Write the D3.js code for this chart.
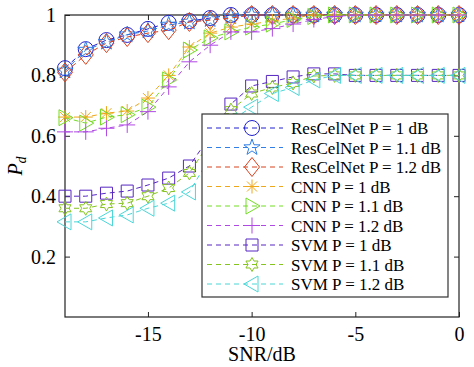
<!DOCTYPE html>
<html>
<head>
<meta charset="utf-8">
<script src="https://cdn.jsdelivr.net/npm/d3@7"></script>
<style>
body { margin: 0; background: #fff; }
svg { display: block; }
</style>
</head>
<body>
<svg width="474" height="367"></svg>
<script>
// SNR values (dB)
const snr = [-19, -18, -17, -16, -15, -14, -13, -12, -11, -10, -9, -8, -7, -6, -5, -4, -3, -2, -1, 0];

const resP1  = [0.824, 0.887, 0.917, 0.934, 0.954, 0.974, 0.98, 0.99, 1, 1, 1, 1, 1, 1, 1, 1, 1, 1, 1, 1];
const resP11 = [0.815, 0.884, 0.91, 0.935, 0.947, 0.967, 0.977, 0.985, 0.995, 1, 1, 1, 1, 1, 1, 1, 1, 1, 1, 1];
const resP12 = [0.81, 0.868, 0.907, 0.927, 0.94, 0.95, 0.977, 0.983, 0.99, 1, 1, 1, 1, 1, 1, 1, 1, 1, 1, 1];
const cnnP1  = [0.662, 0.662, 0.675, 0.682, 0.725, 0.8, 0.894, 0.94, 0.96, 0.97, 0.98, 0.99, 1, 1, 1, 1, 1, 1, 1, 1];
const cnnP11 = [0.66, 0.642, 0.662, 0.67, 0.695, 0.785, 0.884, 0.924, 0.944, 0.96, 0.97, 0.985, 0.995, 1, 1, 1, 1, 1, 1, 1];
const cnnP12 = [0.613, 0.613, 0.625, 0.636, 0.68, 0.762, 0.845, 0.9, 0.944, 0.944, 0.955, 0.97, 0.985, 0.995, 1, 1, 1, 1, 1, 1];
const svmP1  = [0.4, 0.4, 0.41, 0.417, 0.437, 0.46, 0.5, 0.6, 0.705, 0.765, 0.78, 0.795, 0.805, 0.805, 0.8, 0.8, 0.8, 0.8, 0.8, 0.8];
const svmP11 = [0.36, 0.36, 0.374, 0.377, 0.4, 0.427, 0.477, 0.58, 0.685, 0.74, 0.76, 0.775, 0.798, 0.8, 0.8, 0.8, 0.8, 0.8, 0.8, 0.8];
const svmP12 = [0.315, 0.315, 0.328, 0.338, 0.36, 0.377, 0.414, 0.53, 0.65, 0.695, 0.74, 0.76, 0.785, 0.8, 0.8, 0.8, 0.8, 0.8, 0.8, 0.8];

const labels = ["ResCelNet P = 1 dB", "ResCelNet P = 1.1 dB", "ResCelNet P = 1.2 dB",
                "CNN P = 1 dB", "CNN P = 1.1 dB", "CNN P = 1.2 dB",
                "SVM P = 1 dB", "SVM P = 1.1 dB", "SVM P = 1.2 dB"];
const xTicks = [-15, -10, -5, 0];
const yTicks = [0.2, 0.4, 0.6, 0.8, 1];

const serif = "'Liberation Serif', 'Times New Roman', Tinos, 'DejaVu Serif', serif";

// marker shapes, centred on 0,0
function poly(pts) { return "M" + pts.map(p => p[0].toFixed(2) + "," + p[1].toFixed(2)).join("L") + "Z"; }
function starPts(n, ro, ri) {
    let pts = [];
    for (let i = 0; i < 2 * n; i++) {
        let a = i * Math.PI / n, r = i % 2 ? ri : ro;
        pts.push([r * Math.sin(a), -r * Math.cos(a)]);
    }
    return pts;
}
const shapes = {
    circle: "M7.5,0A7.5,7.5 0 1,1 -7.5,0A7.5,7.5 0 1,1 7.5,0Z",
    star: poly(starPts(5, 8.5, 3.4)),
    diamond: poly([[0, -9.5], [7.5, 0], [0, 9.5], [-7.5, 0]]),
    asterisk: "M-7,0L7,0M0,-7L0,7M-5,-5L5,5M-5,5L5,-5",
    triRight: poly([[8, 0], [-6, -8], [-6, 8]]),
    plus: "M-8,0L8,0M0,-8L0,8",
    square: poly([[-6, -6], [6, -6], [6, 6], [-6, 6]]),
    hexagram: poly(starPts(6, 7, 4)),
    triLeft: poly([[-8, 0], [6, -8], [6, 8]])
};

const series = [
    { values: resP1,  color: "#2020d0", shape: "circle" },
    { values: resP11, color: "#2f7fe6", shape: "star" },
    { values: resP12, color: "#d8401c", shape: "diamond" },
    { values: cnnP1,  color: "#efa71a", shape: "asterisk" },
    { values: cnnP11, color: "#72dc22", shape: "triRight" },
    { values: cnnP12, color: "#b048e4", shape: "plus" },
    { values: svmP1,  color: "#5626c2", shape: "square" },
    { values: svmP11, color: "#86c41e", shape: "hexagram" },
    { values: svmP12, color: "#4ad6d8", shape: "triLeft" }
];
series.forEach((s, i) => s.label = labels[i]);

const svg = d3.select("svg");
const mL = 65, mR = 459, mT = 15, mB = 317;

const x = d3.scaleLinear().domain([-19, 0]).range([mL, mR]);
const y = d3.scaleLinear().domain([0, 1]).range([mB, mT]);

// axes with inward ticks on all four sides
const tickLen = 5;
svg.append("g").attr("transform", `translate(0,${mB})`)
    .call(d3.axisBottom(x).tickValues(xTicks).tickSizeInner(-tickLen).tickSizeOuter(0).tickPadding(10).tickFormat(d => String(d)))
    .call(g => g.selectAll("text").attr("font-size", 20));
svg.append("g").attr("transform", `translate(0,${mT})`)
    .call(d3.axisTop(x).tickValues(xTicks).tickSizeInner(-tickLen).tickSizeOuter(0).tickFormat(""));
svg.append("g").attr("transform", `translate(${mL},0)`)
    .call(d3.axisLeft(y).tickValues(yTicks).tickSizeInner(-tickLen).tickSizeOuter(0).tickPadding(9).tickFormat(d => d === 1 ? "1" : d3.format(".1f")(d)))
    .call(g => g.selectAll("text").attr("font-size", 20));
svg.append("g").attr("transform", `translate(${mR},0)`)
    .call(d3.axisRight(y).tickValues(yTicks).tickSizeInner(-tickLen).tickSizeOuter(0).tickFormat(""));
svg.selectAll("g").attr("font-family", serif);
svg.selectAll(".domain").remove();
svg.selectAll(".tick line").attr("stroke", "#222");
svg.append("rect")
    .attr("x", mL).attr("y", mT)
    .attr("width", mR - mL).attr("height", mB - mT)
    .attr("fill", "none").attr("stroke", "#222").attr("stroke-width", 1.2);

// curves
const line = d3.line().x((d, i) => x(snr[i])).y(d => y(d));
series.forEach(s => {
    const g = svg.append("g");
    g.append("path").datum(s.values)
        .attr("d", line)
        .attr("fill", "none")
        .attr("stroke", s.color)
        .attr("stroke-width", 1)
        .attr("stroke-dasharray", "5,4");
    g.selectAll("path.m").data(s.values).enter().append("path")
        .attr("class", "m")
        .attr("d", shapes[s.shape])
        .attr("transform", (d, i) => `translate(${x(snr[i])},${y(d)})`)
        .attr("fill", "none")
        .attr("stroke", s.color)
        .attr("stroke-width", 1);
});

// legend
const legX = 202, legY = 114, legW = 246, legH = 183, rowH = 19.5;
const leg = svg.append("g").attr("font-family", serif);
leg.append("rect")
    .attr("x", legX).attr("y", legY).attr("width", legW).attr("height", legH)
    .attr("fill", "#fff").attr("stroke", "#333").attr("stroke-width", 1.2);
series.forEach((s, i) => {
    const cy = legY + 14 + i * rowH;
    leg.append("line")
        .attr("x1", legX + 5).attr("x2", legX + 81)
        .attr("y1", cy).attr("y2", cy)
        .attr("stroke", s.color).attr("stroke-width", 1).attr("stroke-dasharray", "5,4");
    leg.append("path")
        .attr("d", shapes[s.shape])
        .attr("transform", `translate(${legX + 50},${cy})`)
        .attr("fill", "none").attr("stroke", s.color).attr("stroke-width", 1);
    leg.append("text")
        .attr("x", legX + 89).attr("y", cy + 6)
        .attr("font-size", 17)
        .attr("fill", "#000")
        .text(s.label);
});

// axis titles
svg.append("text")
    .attr("x", (mL + mR) / 2).attr("y", 361)
    .attr("text-anchor", "middle").attr("font-size", 20)
    .attr("font-family", serif)
    .text("SNR/dB");
const yl = svg.append("text")
    .attr("transform", "translate(22,166) rotate(-90)")
    .attr("text-anchor", "middle").attr("font-size", 20).attr("font-style", "italic")
    .attr("font-family", serif);
yl.append("tspan").text("P");
yl.append("tspan").attr("font-size", 14).attr("dy", 4).text("d");
</script>
</body>
</html>
